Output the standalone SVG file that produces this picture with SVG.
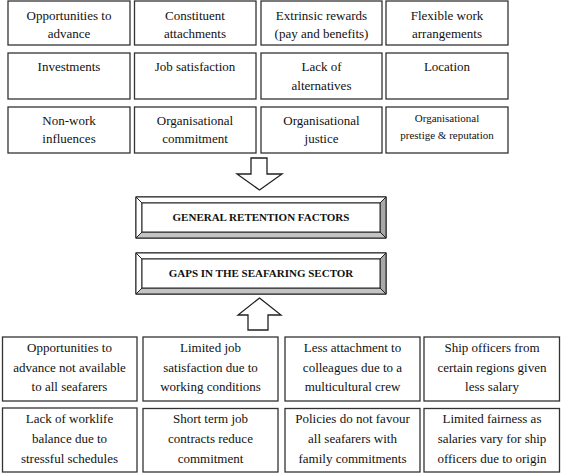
<svg xmlns="http://www.w3.org/2000/svg" width="562" height="473" viewBox="0 0 562 473">
<style>
.b{fill:#fff;stroke:#333;stroke-width:1.3}
.t{font-size:13px;fill:#111;text-anchor:middle}
.s{font-size:11px}
.h{font-size:11px;font-weight:bold;fill:#111;text-anchor:middle}
.ar{fill:#fff;stroke:#222;stroke-width:1.3;stroke-linejoin:miter}
.lt{fill:#fff;stroke:#222;stroke-width:1}
.dk{fill:#a8a8a8;stroke:#222;stroke-width:1}
.dk2{fill:#c4c4c4;stroke:#222;stroke-width:1}
</style>
<rect width="562" height="473" fill="#fff"/>
<g font-family="Liberation Serif, Times New Roman, Times, serif">
<g id="top1"><rect class="b" x="8" y="1" width="122" height="44"/><text class="t" x="69" y="19.5">Opportunities to</text><text class="t" x="69" y="37.5">advance</text></g>
<g id="top2"><rect class="b" x="134.5" y="1" width="121.5" height="44"/><text class="t" x="195" y="19.5">Constituent</text><text class="t" x="195" y="37.5">attachments</text></g>
<g id="top3"><rect class="b" x="261" y="1" width="121" height="44"/><text class="t" x="321.5" y="19.5">Extrinsic rewards</text><text class="t" x="321.5" y="37.5">(pay and benefits)</text></g>
<g id="top4"><rect class="b" x="386" y="1" width="122" height="44"/><text class="t" x="447" y="19.5">Flexible work</text><text class="t" x="447" y="37.5">arrangements</text></g>
<g id="mid1"><rect class="b" x="8" y="53" width="122" height="46"/><text class="t" x="69" y="71">Investments</text></g>
<g id="mid2"><rect class="b" x="134.5" y="53" width="121.5" height="46"/><text class="t" x="195" y="71">Job satisfaction</text></g>
<g id="mid3"><rect class="b" x="261" y="53" width="121" height="46"/><text class="t" x="321.5" y="71">Lack of</text><text class="t" x="321.5" y="90">alternatives</text></g>
<g id="mid4"><rect class="b" x="386" y="53" width="122" height="46"/><text class="t" x="447" y="71">Location</text></g>
<g id="low1"><rect class="b" x="8" y="107" width="122" height="46"/><text class="t" x="69" y="124.5">Non-work</text><text class="t" x="69" y="142.5">influences</text></g>
<g id="low2"><rect class="b" x="134.5" y="107" width="121.5" height="46"/><text class="t" x="195" y="124.5">Organisational</text><text class="t" x="195" y="142.5">commitment</text></g>
<g id="low3"><rect class="b" x="261" y="107" width="121" height="46"/><text class="t" x="321.5" y="124.5">Organisational</text><text class="t" x="321.5" y="142.5">justice</text></g>
<g id="low4"><rect class="b" x="386" y="107" width="122" height="46"/><text class="t s" x="447" y="122">Organisational</text><text class="t s" x="447" y="139">prestige &amp; reputation</text></g>
<g id="connectors">
<polygon class="ar" points="251,158 267,158 267,174 282,174 259.5,190 237,174 251,174"/>
<polygon class="ar" points="259.5,298 281,315 268,315 268,330 248,330 248,315 238,315"/>
</g>
<g id="general">
<rect x="136" y="197" width="250" height="41" fill="#fff" stroke="#222" stroke-width="1.2"/>
<polygon class="lt" points="136,197 386,197 380,203 142,203"/>
<polygon class="lt" points="136,197 142,203 142,232 136,238"/>
<polygon class="dk" points="386,197 386,238 380,232 380,203"/>
<polygon class="dk2" points="136,238 386,238 380,232 142,232"/>
<rect x="142" y="203" width="238" height="29" fill="#fff" stroke="#222" stroke-width="1"/>
<text class="h" x="261" y="221">GENERAL RETENTION FACTORS</text>
</g>
<g id="gaps">
<rect x="136" y="253" width="250" height="41" fill="#fff" stroke="#222" stroke-width="1.2"/>
<polygon class="lt" points="136,253 386,253 380,259 142,259"/>
<polygon class="lt" points="136,253 142,259 142,288 136,294"/>
<polygon class="dk" points="386,253 386,294 380,288 380,259"/>
<polygon class="dk2" points="136,294 386,294 380,288 142,288"/>
<rect x="142" y="259" width="238" height="29" fill="#fff" stroke="#222" stroke-width="1"/>
<text class="h" x="261" y="277">GAPS IN THE SEAFARING SECTOR</text>
</g>
<g id="gap1"><rect class="b" x="2.5" y="337" width="134.5" height="64"/><text class="t" x="69.5" y="351.5">Opportunities to</text><text class="t" x="69.5" y="371.5">advance not available</text><text class="t" x="69.5" y="391">to all seafarers</text></g>
<g id="gap2"><rect class="b" x="143" y="337" width="135" height="64"/><text class="t" x="210.5" y="351.5">Limited job</text><text class="t" x="210.5" y="371.5">satisfaction due to</text><text class="t" x="210.5" y="391">working conditions</text></g>
<g id="gap3"><rect class="b" x="285" y="337" width="135" height="64"/><text class="t" x="352.5" y="351.5">Less attachment to</text><text class="t" x="352.5" y="371.5">colleagues due to a</text><text class="t" x="352.5" y="391">multicultural crew</text></g>
<g id="gap4"><rect class="b" x="424" y="337" width="135.5" height="64"/><text class="t" x="492" y="351.5">Ship officers from</text><text class="t" x="492" y="371.5">certain regions given</text><text class="t" x="492" y="391">less salary</text></g>
<g id="gap5"><rect class="b" x="2.5" y="408" width="134.5" height="64"/><text class="t" x="69.5" y="423">Lack of worklife</text><text class="t" x="69.5" y="443">balance due to</text><text class="t" x="69.5" y="462.5">stressful schedules</text></g>
<g id="gap6"><rect class="b" x="143" y="408.5" width="135" height="63.5"/><text class="t" x="210.5" y="423">Short term job</text><text class="t" x="210.5" y="443">contracts reduce</text><text class="t" x="210.5" y="462.5">commitment</text></g>
<g id="gap7"><rect class="b" x="285" y="408.5" width="135" height="63.5"/><text class="t" x="352.5" y="423">Policies do not favour</text><text class="t" x="352.5" y="443">all seafarers with</text><text class="t" x="352.5" y="462.5">family commitments</text></g>
<g id="gap8"><rect class="b" x="424" y="408.5" width="135.5" height="63.5"/><text class="t" x="492" y="423">Limited fairness as</text><text class="t" x="492" y="443">salaries vary for ship</text><text class="t" x="492" y="462.5">officers due to origin</text></g>
</g>
</svg>
